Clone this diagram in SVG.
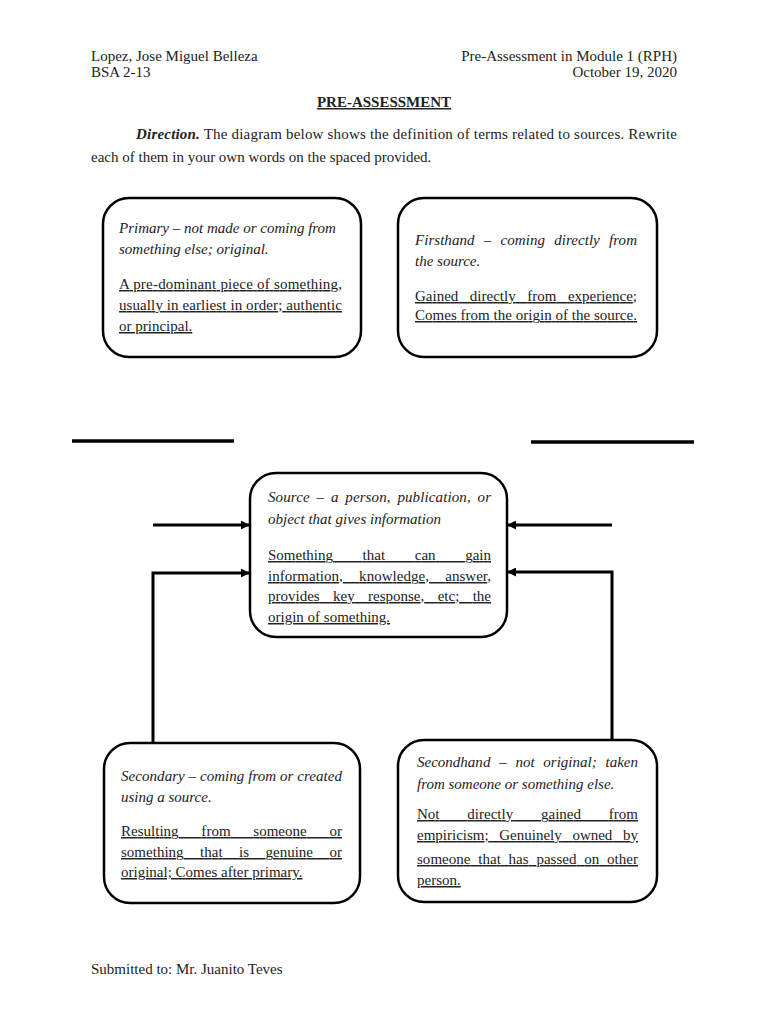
<svg xmlns="http://www.w3.org/2000/svg" width="768" height="1024" viewBox="0 0 768 1024">
<style>
text{font-family:"Liberation Serif","Times New Roman",serif;font-size:15px;fill:#222}
.i{font-style:italic}
.u{text-decoration:underline}
.b{font-weight:bold}
.box{fill:#fff;stroke:#000;stroke-width:2.5}
.conn{fill:none;stroke:#000;stroke-width:3}
.rule{stroke:#000;stroke-width:3.5}
</style>
<defs>
<marker id="ah" viewBox="0 0 10 10" refX="9" refY="5" markerWidth="3" markerHeight="3" orient="auto" markerUnits="strokeWidth">
<path d="M0,0 L10,5 L0,10 z" fill="#000"/>
</marker>
</defs>
<rect width="768" height="1024" fill="#fff"/>
<g id="header">
<text x="91" y="61">Lopez, Jose Miguel Belleza</text>
<text x="91" y="77">BSA 2-13</text>
<text x="677" y="61" text-anchor="end">Pre-Assessment in Module 1 (RPH)</text>
<text x="677" y="77" text-anchor="end">October 19, 2020</text>
<text x="384" y="107" text-anchor="middle" class="b u">PRE-ASSESSMENT</text>
<text x="136" y="139" textLength="541" lengthAdjust="spacing"><tspan class="b i">Direction.</tspan> The diagram below shows the definition of terms related to sources. Rewrite</text>
<text x="91" y="162">each of them in your own words on the spaced provided.</text>
</g>
<g id="rules">
<line class="rule" x1="72" y1="441" x2="234" y2="441"/>
<line class="rule" x1="531" y1="442" x2="694" y2="442"/>
</g>
<g id="connectors">
<line class="conn" x1="153" y1="525" x2="249" y2="525" marker-end="url(#ah)"/>
<line class="conn" x1="612" y1="525" x2="508" y2="525" marker-end="url(#ah)"/>
<polyline class="conn" points="153,743 153,573 249,573" marker-end="url(#ah)"/>
<polyline class="conn" points="612,740 612,572 508,572" marker-end="url(#ah)"/>
</g>
<g id="primary">
<rect class="box" x="103" y="198" width="258" height="159" rx="26"/>
<text class="i" x="119" y="233">Primary – not made or coming from</text>
<text class="i" x="119" y="254">something else; original.</text>
<text class="u" x="119" y="289" textLength="223" lengthAdjust="spacing">A pre-dominant piece of something,</text>
<text class="u" x="119" y="310" textLength="223" lengthAdjust="spacing">usually in earliest in order; authentic</text>
<text class="u" x="119" y="331">or principal.</text>
</g>
<g id="firsthand">
<rect class="box" x="398" y="198" width="259" height="159" rx="26"/>
<text class="i" x="415" y="245" textLength="222" lengthAdjust="spacing" word-spacing="5.5">Firsthand – coming directly from</text>
<text class="i" x="415" y="266">the source.</text>
<text class="u" x="415" y="301" textLength="222" lengthAdjust="spacing" word-spacing="7.8">Gained directly from experience;</text>
<text class="u" x="415" y="320" textLength="222" lengthAdjust="spacing">Comes from the origin of the source.</text>
</g>
<g id="source">
<rect class="box" x="250" y="473" width="257" height="164" rx="26"/>
<text class="i" x="268" y="502" textLength="223" lengthAdjust="spacing" word-spacing="2.9">Source – a person, publication, or</text>
<text class="i" x="268" y="524">object that gives information</text>
<text class="u" x="268" y="560" textLength="223" lengthAdjust="spacing" word-spacing="25.9">Something that can gain</text>
<text class="u" x="268" y="581" textLength="223" lengthAdjust="spacing" word-spacing="12.5">information, knowledge, answer,</text>
<text class="u" x="268" y="601" textLength="223" lengthAdjust="spacing" word-spacing="9.6">provides key response, etc; the</text>
<text class="u" x="268" y="622">origin of something.</text>
</g>
<g id="secondary">
<rect class="box" x="104" y="743" width="256" height="160" rx="26"/>
<text class="i" x="121" y="781" textLength="221" lengthAdjust="spacing">Secondary – coming from or created</text>
<text class="i" x="121" y="802">using a source.</text>
<text class="u" x="121" y="836" textLength="221" lengthAdjust="spacing" word-spacing="19">Resulting from someone or</text>
<text class="u" x="121" y="857" textLength="221" lengthAdjust="spacing" word-spacing="12.7">something that is genuine or</text>
<text class="u" x="121" y="877">original; Comes after primary.</text>
</g>
<g id="secondhand">
<rect class="box" x="398" y="740" width="259" height="162" rx="26"/>
<text class="i" x="417" y="767" textLength="221" lengthAdjust="spacing" word-spacing="5">Secondhand – not original; taken</text>
<text class="i" x="417" y="789">from someone or something else.</text>
<text class="u" x="417" y="819" textLength="221" lengthAdjust="spacing" word-spacing="24">Not directly gained from</text>
<text class="u" x="417" y="840" textLength="221" lengthAdjust="spacing" word-spacing="6.9">empiricism; Genuinely owned by</text>
<text class="u" x="417" y="864" textLength="221" lengthAdjust="spacing" word-spacing="4">someone that has passed on other</text>
<text class="u" x="417" y="885">person.</text>
</g>
<g id="footer">
<text x="91" y="974">Submitted to: Mr. Juanito Teves</text>
</g>
</svg>
